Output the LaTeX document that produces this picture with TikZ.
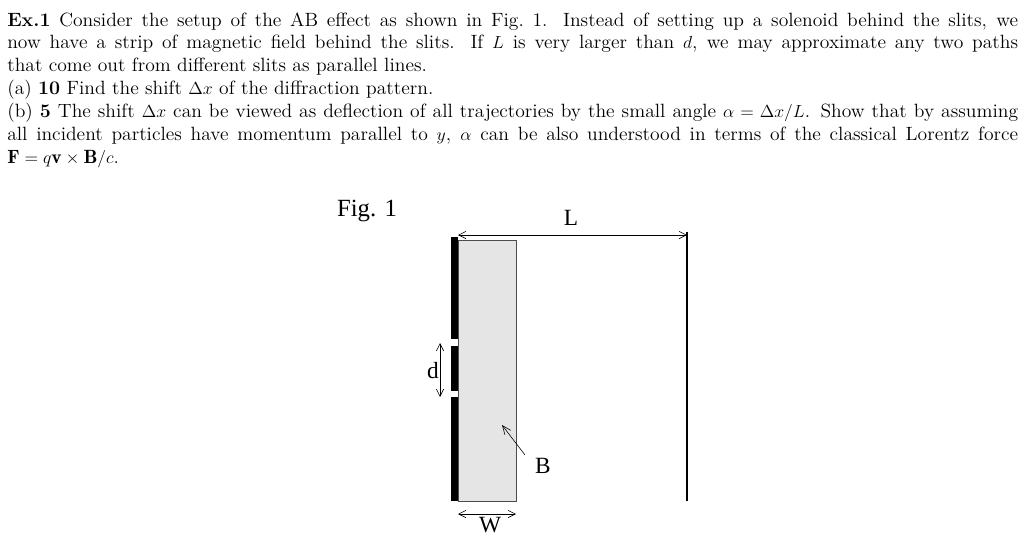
\documentclass[tikz,border=0pt]{standalone}
\usepackage{fontspec}
\usepackage{graphicx}
\newfontfamily\figfont{Liberation Serif}
\usetikzlibrary{arrows.meta}
\begin{document}
\begin{tikzpicture}[x=0.6875pt,y=-0.6875pt,
  dim/.style={{Straight Barb[length=5pt,width=5pt]}-{Straight Barb[length=5pt,width=5pt]},line width=0.4pt},
  lbl/.style={font=\figfont\fontsize{16}{17}\selectfont,inner sep=0pt}]
\useasboundingbox (0,0) rectangle (1024,535);
\node[anchor=north west,inner sep=0pt] (txt) at (7,12) {\scalebox{1.02}[1]{\parbox[t]{991\dimexpr 0.6875pt\relax}{\fontsize{13.2}{15.8}\selectfont\noindent
\textbf{Ex.1} Consider the setup of the AB effect as shown in Fig.~1. Instead of setting up a solenoid behind the slits, we\linebreak
now have a strip of magnetic field behind the slits. If $L$ is very larger than $d$, we may approximate any two paths\linebreak
that come out from different slits as parallel lines.\\
(a) \textbf{10} Find the shift $\Delta x$ of the diffraction pattern.\\
(b) \textbf{5} The shift $\Delta x$ can be viewed as deflection of all trajectories by the small angle $\alpha=\Delta x/L$. Show that by assuming\linebreak
all incident particles have momentum parallel to $y$, $\alpha$ can be also understood in terms of the classical Lorentz force\linebreak
$\mathbf{F}=q\mathbf{v}\times\mathbf{B}/c$.}}};
\node[lbl,font=\figfont\fontsize{17}{18}\selectfont] (fig) at (367,211) {Fig. 1};
\fill[gray!20,draw=black!70,line width=0.4pt] (458,240) rectangle (516,501);
\fill (451,237) rectangle (458,339);
\fill (451,346) rectangle (458,391);
\fill (451,397) rectangle (458,501);
\coordinate (st) at (687,232); \coordinate (sb) at (687,501);
\draw[line width=0.8pt] (st) -- (sb);
\coordinate (la) at (458,235); \coordinate (lb) at (687,235);
\draw[dim] (la) -- (lb);
\node[lbl] (L) at (571,218) {L};
\coordinate (da) at (440,343); \coordinate (db) at (440,397);
\draw[dim] (da) -- (db);
\node[lbl] (d) at (433,371) {d};
\coordinate (wa) at (458,514); \coordinate (wb) at (516,514);
\draw[dim] (wa) -- (wb);
\node[lbl,anchor=south] (W) at (490,533) {W};
\coordinate (ba) at (525,455); \coordinate (bb) at (502,425);
\draw[-{Straight Barb[length=6pt,width=5pt]},line width=0.4pt] (ba) -- (bb);
\node[lbl] (B) at (543,466) {B};
\end{tikzpicture}
\end{document}
